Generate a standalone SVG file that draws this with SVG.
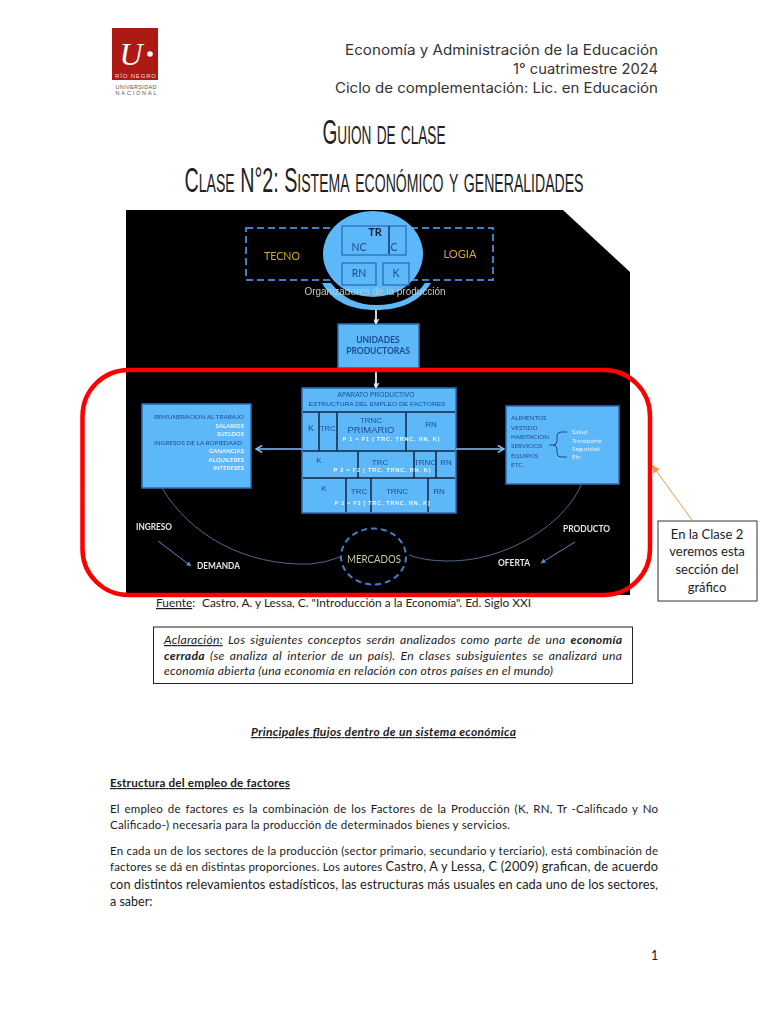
<svg xmlns="http://www.w3.org/2000/svg" width="768" height="1024" viewBox="0 0 768 1024">
<defs>
<filter id="soft" x="-5%" y="-5%" width="110%" height="110%"><feGaussianBlur stdDeviation="0.35"/></filter>
<marker id="wh" markerWidth="5" markerHeight="5" refX="4" refY="2.5" orient="auto" markerUnits="userSpaceOnUse" viewBox="0 0 5 5"><path d="M0 0L4.5 2.5L0 5" fill="none" stroke="#e8eef5" stroke-width="1.4"/></marker>
<marker id="bl" markerWidth="8" markerHeight="8" refX="7" refY="4" orient="auto" markerUnits="userSpaceOnUse"><path d="M1 .5L7 4L1 7.5" fill="none" stroke="#7cc4f8" stroke-width="1.5"/></marker>
<marker id="th" markerWidth="5" markerHeight="5" refX="4.5" refY="2.5" orient="auto" markerUnits="userSpaceOnUse"><path d="M0 0L5 2.5L0 5z" fill="#5f86c4"/></marker>
<marker id="or" markerWidth="9" markerHeight="9" refX="8" refY="4" orient="auto" markerUnits="userSpaceOnUse"><path d="M0 0L8 4L0 8z" fill="#f79646"/></marker>
</defs>
<style>
text{font-family:"Liberation Sans",Arial,sans-serif}
.l{font-family:Lato,"Open Sans",sans-serif;fill:#1c1c1c}
.c{font-family:Lato,"Open Sans",sans-serif}
.h{font-family:Inter,"Open Sans",sans-serif;font-size:14px;fill:#333;text-anchor:end}
.t{font-family:"Liberation Sans Narrow","Liberation Sans",sans-serif;font-variant:small-caps;fill:#222;text-anchor:middle}
.b{fill:#5cb8f8;stroke:#2e6db4;stroke-width:1.5}
.ln{stroke:#14243f;stroke-width:1.5;fill:none}
.d{fill:#1d4c8f}
.w{fill:#f2f7fc;font-weight:bold}
.cv{fill:none;stroke:#56678c;stroke-width:1}
.dash{fill:none;stroke:#3f7fc8;stroke-width:2;stroke-dasharray:7 4}
.g{font-family:Lato,"Open Sans",sans-serif;fill:#e6e6e6;font-weight:bold;font-size:9px}
.s{filter:url(#soft)}
</style>
<rect width="768" height="1024" fill="#fff"/>
<g id="logo">
<rect x="112" y="28" width="46" height="52" fill="#ad1a14"/>
<text x="131" y="65" font-size="32" text-anchor="middle" fill="#fff" style="font-family:'Liberation Serif',serif;font-style:italic">U</text>
<circle cx="150" cy="54" r="2.800" fill="#fff"/>
<text x="135.500" y="77.500" font-size="6" text-anchor="middle" fill="#f3d7d5" textLength="41">RÍO NEGRO</text>
<text x="136" y="88.500" font-size="5.500" text-anchor="middle" fill="#555" textLength="41">UNIVERSIDAD</text>
<text x="136" y="94.500" font-size="5.500" text-anchor="middle" fill="#555" textLength="41">NACIONAL</text>
</g>
<g id="header">
<text class="h" x="658" y="55" textLength="313" lengthAdjust="spacingAndGlyphs">Economía y Administración de la Educación</text>
<text class="h" x="658" y="74" textLength="145" lengthAdjust="spacingAndGlyphs">1° cuatrimestre 2024</text>
<text class="h" x="658" y="93" textLength="323" lengthAdjust="spacingAndGlyphs">Ciclo de complementación: Lic. en Educación</text>
<text class="t" x="384" y="144" font-size="35" textLength="123" lengthAdjust="spacingAndGlyphs">Guion de clase</text>
<text class="t" x="384" y="192" font-size="35" textLength="399" lengthAdjust="spacingAndGlyphs">Clase N°2: Sistema económico y generalidades</text>
</g>
<polygon id="panel" points="126,210 563,210 630,272 630,595 126,595" fill="#000"/>
<g id="tecnologia" class="s">
<rect class="dash" x="246" y="228" width="247" height="52"/>
<text class="c" x="282" y="260" font-size="11" text-anchor="middle" fill="#d6a62c" textLength="36" lengthAdjust="spacingAndGlyphs">TECNO</text>
<text class="c" x="460" y="258" font-size="11" text-anchor="middle" fill="#d6a62c" textLength="33" lengthAdjust="spacingAndGlyphs">LOGIA</text>
</g>
<g id="organizadores" class="s">
<path d="M322 283H331C342 298 358 305 376 305C397 305 415 298 425 283H431C420 302 400 310 376 310C352 310 332 302 322 283Z" fill="#5cb8f8"/>
<ellipse cx="373" cy="254" rx="50" ry="43" fill="#5cb8f8"/>
<text x="375" y="295" font-size="10.500" text-anchor="middle" fill="#c2cbc4" textLength="141" lengthAdjust="spacingAndGlyphs">Organizadores de la producción</text>
<rect x="342" y="226" width="64" height="29" fill="none" stroke="#2e6db4" stroke-width="1.300"/>
<line x1="389" y1="226" x2="389" y2="254" stroke="#14307a" stroke-width="1.500"/>
<text class="c" x="375" y="236" font-size="11" font-weight="bold" text-anchor="middle" fill="#17233f">TR</text>
<text class="c" x="359" y="251" font-size="10.500" text-anchor="middle" fill="#1d4c8f">NC</text>
<text class="c" x="394" y="251" font-size="10.500" text-anchor="middle" fill="#1d4c8f">C</text>
<rect x="342" y="263" width="34" height="22" fill="none" stroke="#2e6db4" stroke-width="1.300"/>
<text class="c" x="359" y="277" font-size="10.500" text-anchor="middle" fill="#1d4c8f">RN</text>
<rect x="383" y="263" width="26" height="22" fill="none" stroke="#2e6db4" stroke-width="1.300"/>
<text class="c" x="396" y="277" font-size="10.500" text-anchor="middle" fill="#1d4c8f">K</text>
</g>
<g id="unidades" class="s">
<rect class="b" x="338" y="324" width="81" height="44"/>
<text class="c" x="378" y="343" font-size="8.500" font-weight="bold" text-anchor="middle" fill="#1d4c8f">UNIDADES</text>
<text class="c" x="378" y="354" font-size="8.500" font-weight="bold" text-anchor="middle" fill="#1d4c8f">PRODUCTORAS</text>
</g>
<g id="aparato" class="s">
<rect class="b" x="302" y="388" width="154" height="125"/>
<path class="ln" d="M303 412H455M303 451H455M303 478H455M319 412V451M337 412V451M406 412V451M358 451V478M414 451V478M436 451V478M346 478V512M371 478V512M428 478V512"/>
<text x="376" y="397" font-size="6.300" text-anchor="middle" class="d" textLength="77" lengthAdjust="spacingAndGlyphs">APARATO PRODUCTIVO</text>
<text x="377" y="406" font-size="5.800" text-anchor="middle" class="d" textLength="137" lengthAdjust="spacingAndGlyphs">ESTRUCTURA  DEL  EMPLEO DE FACTORES</text>
<text x="311" y="431" font-size="9" text-anchor="middle" class="d">K</text>
<text x="328" y="431" font-size="7.500" text-anchor="middle" class="d">TRC</text>
<text x="371" y="423" font-size="8" text-anchor="middle" class="d">TRNC</text>
<text x="371" y="433" font-size="9.500" text-anchor="middle" class="d">PRIMARIO</text>
<text x="431" y="427" font-size="8" text-anchor="middle" class="d">RN</text>
<text x="391" y="441" font-size="5.500" text-anchor="middle" class="w" textLength="97" lengthAdjust="spacing">P 1  =  F1  ( TRC, TRNC, RN, K)</text>
<text x="319" y="463" font-size="8" text-anchor="middle" class="d">K</text>
<text x="380" y="465" font-size="8" text-anchor="middle" class="d">TRC</text>
<text x="425" y="465" font-size="8" text-anchor="middle" class="d">TRNC</text>
<text x="446" y="465" font-size="8" text-anchor="middle" class="d">RN</text>
<text x="382" y="472" font-size="5.500" text-anchor="middle" class="w" textLength="97" lengthAdjust="spacing">P 2  =  F2  ( TRC, TRNC, RN, K)</text>
<text x="324" y="491" font-size="8" text-anchor="middle" class="d">K</text>
<text x="359" y="494" font-size="8" text-anchor="middle" class="d">TRC</text>
<text x="397" y="494" font-size="8" text-anchor="middle" class="d">TRNC</text>
<text x="439" y="494" font-size="8" text-anchor="middle" class="d">RN</text>
<text x="382" y="505" font-size="5.500" text-anchor="middle" class="w" textLength="95" lengthAdjust="spacing">P 3  = F3 [ TRC, TRNC, RN, K]</text>
</g>
<g id="remuneracion" class="s" font-size="6" text-anchor="end">
<rect class="b" x="142" y="404" width="109" height="84"/>
<text class="d c" x="244" y="419" textLength="90" lengthAdjust="spacingAndGlyphs">REMUNERACION AL TRABAJO</text>
<text class="w c" x="244" y="428">SALARIOS</text>
<text class="w c" x="244" y="436">SUELDOS</text>
<text class="d c" x="242" y="445" textLength="88" lengthAdjust="spacingAndGlyphs">INGRESOS DE LA ROPIEDAAD</text>
<text class="w c" x="244" y="453">GANANCIAS</text>
<text class="w c" x="244" y="462">ALQUILERES</text>
<text class="w c" x="244" y="470">INTERESES</text>
</g>
<g id="bienes" class="s" font-size="6.300">
<rect class="b" x="506" y="406" width="113" height="78"/>
<text class="d c" x="511" y="420">ALIMENTOS</text>
<text class="d c" x="511" y="430">VESTIDO</text>
<text class="d c" x="511" y="439">HABITACION</text>
<text class="d c" x="511" y="448">SERVICIOS</text>
<text class="d c" x="511" y="458">EQUIPOS</text>
<text class="d c" x="511" y="467">ETC.</text>
<path d="M567 432H561Q557 432 557 436V441Q557 445 553 445H549M553 445Q557 445 557 449V453Q557 457 561 457H567" fill="none" stroke="#1d4c8f" stroke-width="1"/>
<g fill="#e6f3fd"><text class="c" x="572" y="434">Salud</text><text class="c" x="572" y="443">Transporte</text><text class="c" x="572" y="451">Seguridad</text><text class="c" x="572" y="459">Etc</text></g>
</g>
<g id="mercados" class="s">
<ellipse class="dash" cx="373.500" cy="556.500" rx="32.500" ry="28" style="stroke-dasharray:6 4"/>
<text class="c" x="374" y="563" font-size="11.500" text-anchor="middle" fill="#c9c8a8" textLength="54" lengthAdjust="spacingAndGlyphs">MERCADOS</text>
</g>
<g id="labels" class="s">
<text class="g" x="136" y="530" textLength="36" lengthAdjust="spacingAndGlyphs">INGRESO</text>
<text class="g" x="197" y="569" textLength="43" lengthAdjust="spacingAndGlyphs">DEMANDA</text>
<text class="g" x="563" y="532" textLength="47" lengthAdjust="spacingAndGlyphs">PRODUCTO</text>
<text class="g" x="498" y="566" textLength="32" lengthAdjust="spacingAndGlyphs">OFERTA</text>
</g>
<g id="connectors">
<path d="M376 310V323" stroke="#e8eef5" stroke-width="1.800" marker-end="url(#wh)" fill="none"/>
<path d="M376 372V387" stroke="#e8eef5" stroke-width="1.800" marker-end="url(#wh)" fill="none"/>
<path d="M302 449H256" stroke="#7cc4f8" stroke-width="1.500" marker-end="url(#bl)" fill="none"/>
<path d="M456 449H504" stroke="#7cc4f8" stroke-width="1.500" marker-end="url(#bl)" fill="none"/>
<path class="cv" d="M162 488C190 535 245 566 310 564Q325 563 340 557"/>
<path class="cv" d="M582 483C565 525 505 562 447 561Q425 561 409 555"/>
<path d="M158 541L191 566" stroke="#5f86c4" stroke-width="1" marker-end="url(#th)" fill="none"/>
<path d="M575 542L541 563" stroke="#5f86c4" stroke-width="1" marker-end="url(#th)" fill="none"/>
<path d="M692 520L652 465" stroke="#f79646" stroke-width="1" marker-end="url(#or)" fill="none"/>
</g>
<rect id="highlight" x="82.500" y="370" width="567.500" height="225" rx="46" fill="none" stroke="#f00" stroke-width="4.500"/>
<g id="callout">
<rect x="658" y="521" width="99" height="80" fill="#fff" stroke="#333" stroke-width="1"/>
<g font-size="13" text-anchor="middle">
<text class="l" x="707" y="539">En la Clase 2</text>
<text class="l" x="707" y="556">veremos esta</text>
<text class="l" x="707" y="574">sección del</text>
<text class="l" x="707" y="592">gráfico</text>
</g>
</g>
<g id="body">
<text class="l" x="156" y="607" font-size="11.900"><tspan text-decoration="underline">Fuente</tspan>:<tspan x="202">Castro, A. y Lessa, C. "Introducción a la Economía". Ed. Siglo XXI</tspan></text>
<rect x="153.500" y="627" width="479" height="56.500" fill="#fff" stroke="#222" stroke-width="1"/>
<g font-size="12.200" font-style="italic">
<text class="l" x="164" y="644" textLength="458" word-spacing="2"><tspan text-decoration="underline">Aclaración:</tspan> Los siguientes conceptos serán analizados como parte de una <tspan font-weight="bold">economía</tspan></text>
<text class="l" x="164" y="660" textLength="458" word-spacing="2"><tspan font-weight="bold">cerrada</tspan> (se analiza al interior de un país). En clases subsiguientes se analizará una</text>
<text class="l" x="164" y="675" textLength="389">economía abierta (una economía en relación con otros países en el mundo)</text>
</g>
<text class="l" x="251" y="736" font-size="12" font-weight="bold" font-style="italic" text-decoration="underline" textLength="265">Principales flujos dentro de un sistema económica</text>
<text class="l" x="110" y="787" font-size="11.700" font-weight="bold" text-decoration="underline" textLength="180">Estructura del empleo de factores</text>
<g font-size="11.500">
<text class="l" x="110" y="813" textLength="548" word-spacing="1.500">El empleo de factores es la combinación de los Factores de la Producción (K, RN, Tr -Calificado y No</text>
<text class="l" x="110" y="829" textLength="400">Calificado-) necesaria para la producción de determinados bienes y servicios.</text>
<text class="l" x="110" y="855" textLength="548">En cada un de los sectores de la producción (sector primario, secundario y terciario), está combinación de</text>
<text class="l" x="110" y="871" textLength="548">factores se dá en distintas proporciones. Los autores <tspan font-size="12.800">Castro, A y Lessa, C (2009) grafican, de acuerdo</tspan></text>
<text class="l" x="110" y="889" font-size="12.800" textLength="548">con distintos relevamientos estadísticos, las estructuras más usuales en cada uno de los sectores,</text>
<text class="l" x="110" y="906" font-size="12.500">a saber:</text>
</g>
<text class="l" x="651" y="960" font-size="12.500">1</text>
</g>
</svg>
